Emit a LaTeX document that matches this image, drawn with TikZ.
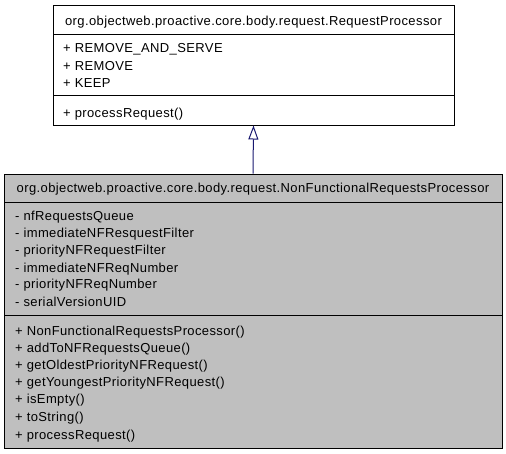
\documentclass[tikz,border=0pt]{standalone}
\usepackage{fontspec}
\setmainfont[LetterSpace=3]{Liberation Sans}
\usetikzlibrary{arrows.meta}
\definecolor{navy}{HTML}{191970}
\definecolor{boxgray}{HTML}{BFBFBF}
\begin{document}
\begin{tikzpicture}[x=1pt,y=-1pt,
  umlbox/.style={draw=black,line width=1pt,rectangle,inner sep=0pt},
  sep/.style={draw=black,line width=1pt},
  txt/.style={anchor=base west,inner sep=0pt,font=\fontsize{13}{15}\selectfont},
  hdr/.style={anchor=base,inner sep=0pt,font=\fontsize{13}{15}\selectfont},
  inherit/.style={draw=navy,line width=1pt,-{Triangle[open,length=14pt,width=10pt]}}]
\useasboundingbox (0,0) rectangle (506,453);
% top class
\node[umlbox,minimum width=401pt,minimum height=120pt] (rp) at (253.5,65) {};
\draw[sep] (53,34) -- (454,34);
\draw[sep] (53,95) -- (454,95);
\node[hdr] (rph) at (253.5,25) {org.objectweb.proactive.core.body.request.RequestProcessor};
\node[txt] (rpa1) at (63,52) {+ REMOVE\_AND\_SERVE};
\node[txt] (rpa2) at (63,70) {+ REMOVE};
\node[txt] (rpa3) at (63,87) {+ KEEP};
\node[txt] (rpm1) at (63,117) {+ processRequest()};
% bottom class
\node[umlbox,fill=boxgray,minimum width=498pt,minimum height=274pt] (nf) at (253,311) {};
\draw[sep] (4,202) -- (502,202);
\draw[sep] (4,315) -- (502,315);
\node[hdr] (nfh) at (253,192) {org.objectweb.proactive.core.body.request.NonFunctionalRequestsProcessor};
\node[txt] (a1) at (15,220) {- nfRequestsQueue};
\node[txt] (a2) at (15,237) {- immediateNFResquestFilter};
\node[txt] (a3) at (15,254) {- priorityNFRequestFilter};
\node[txt] (a4) at (15,272) {- immediateNFReqNumber};
\node[txt] (a5) at (15,288) {- priorityNFReqNumber};
\node[txt] (a6) at (15,306) {- serialVersionUID};
\node[txt] (m1) at (15,335) {+ NonFunctionalRequestsProcessor()};
\node[txt] (m2) at (15,352) {+ addToNFRequestsQueue()};
\node[txt] (m3) at (15,369) {+ getOldestPriorityNFRequest()};
\node[txt] (m4) at (15,386) {+ getYoungestPriorityNFRequest()};
\node[txt] (m5) at (15,403) {+ isEmpty()};
\node[txt] (m6) at (15,421) {+ toString()};
\node[txt] (m7) at (15,439) {+ processRequest()};
% inheritance
\draw[inherit] (nf.north) -- (rp.south);
\end{tikzpicture}
\end{document}
